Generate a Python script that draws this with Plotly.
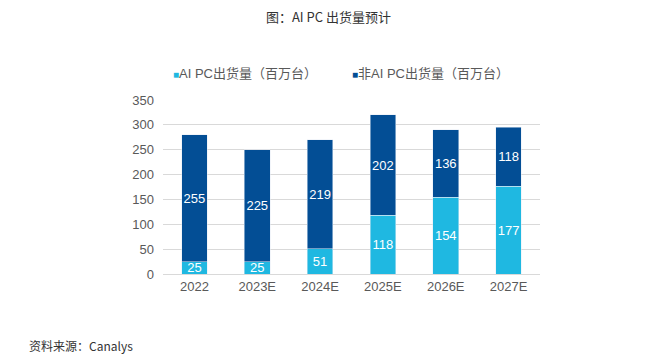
import plotly.graph_objects as go

categories = ["2022", "2023E", "2024E", "2025E", "2026E", "2027E"]
ai_pc = [25, 25, 51, 118, 154, 177]
non_ai_pc = [255, 225, 219, 202, 136, 118]
ai_name = "AI PC出货量（百万台）"
non_ai_name = "非AI PC出货量（百万台）"
y_ticks = [0, 50, 100, 150, 200, 250, 300, 350]

LIGHT = "#1FB8E1"
DARK = "#034E95"
TXT = "#595959"
FONT = "Liberation Sans, Arial, Noto Sans CJK SC"

L, R, T, B = 163, 117, 100, 89
PW, PH = 657 - L - R, 363 - T - B

fig = go.Figure()
for vals, col, nm in [(ai_pc, LIGHT, ai_name), (non_ai_pc, DARK, non_ai_name)]:
    fig.add_trace(go.Bar(x=categories, y=vals, marker_color=col, text=vals,
                         textposition="inside", insidetextanchor="middle", textangle=0,
                         constraintext="none", cliponaxis=False,
                         textfont=dict(color="white", size=13, family=FONT),
                         showlegend=False, name=nm))

fig.update_layout(
    width=657, height=363,
    barmode="stack", bargap=0.59,
    paper_bgcolor="white", plot_bgcolor="white",
    margin=dict(l=L, r=R, t=T, b=B, autoexpand=False),
    uniformtext=dict(minsize=13, mode="show"),
    showlegend=False,
    title=dict(text="图：AI PC 出货量预计", x=0.5, xanchor="center", y=1 - 17 / 363, yanchor="middle",
               font=dict(family="Noto Sans CJK SC", size=13, color="#333333")),
    xaxis=dict(type="category", showgrid=False, showline=True, linecolor="#d9d9d9",
               tickfont=dict(family=FONT, size=13, color=TXT), ticks=""),
    yaxis=dict(range=[0, 350], tickvals=y_ticks, showgrid=True, gridcolor="#d9d9d9",
               zeroline=False, showline=False, ticks="", ticklabelstandoff=8,
               tickfont=dict(family=FONT, size=13, color=TXT)),
)

def px_x(x):
    return (x - L) / PW

def px_y(y):
    return (363 - B - y) / PH

# legend drawn as text entries
for x0, col, nm in [(171, LIGHT, ai_name), (350, DARK, non_ai_name)]:
    fig.add_annotation(text=f'<span style="color:{col};font-size:10px">■</span>{nm}',
                       xref="paper", yref="paper", x=px_x(x0), y=px_y(73),
                       xanchor="left", yanchor="middle", showarrow=False,
                       font=dict(family=FONT, size=13, color=TXT))

fig.add_annotation(text="资料来源：Canalys", xref="paper", yref="paper",
                   x=px_x(27), y=px_y(345), xanchor="left", yanchor="middle",
                   showarrow=False, font=dict(family="Noto Sans CJK SC", size=12, color="#333333"))
fig.write_html("out.html", config={"displayModeBar": False},
               post_script="document.body.style.margin='0';")
